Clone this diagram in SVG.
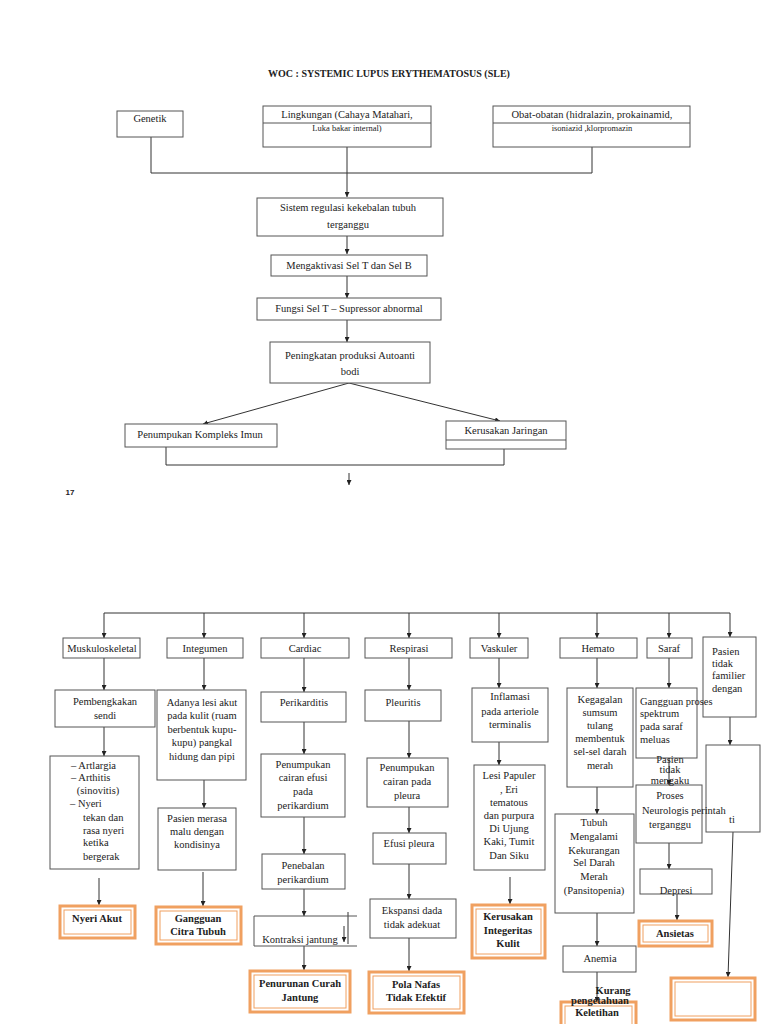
<svg xmlns="http://www.w3.org/2000/svg" width="768" height="1024" viewBox="0 0 768 1024">
<defs>
<marker id="ah" viewBox="0 0 10 10" refX="10" refY="5" markerWidth="5" markerHeight="5" orient="auto" markerUnits="userSpaceOnUse">
<path d="M0,0 L10,5 L0,10 z" fill="#222"/>
</marker>
<style>
text{font-family:"Liberation Serif","Times New Roman",serif;font-size:10.5px;fill:#222;text-anchor:middle}
.b{font-weight:bold}
.l{text-anchor:start}
.box{fill:#fff;stroke:#555;stroke-width:1}
.c line,.c path{stroke:#333;stroke-width:1;fill:none}
.a{marker-end:url(#ah)}
.o1{fill:#fff;stroke:#f0a060;stroke-width:3}
.o2{fill:none;stroke:#f0a060;stroke-width:1}
</style>
</defs>
<rect width="768" height="1024" fill="#fff"/>
<text class="b" x="389" y="77" style="font-size:10px">WOC : SYSTEMIC LUPUS ERYTHEMATOSUS (SLE)</text>
<text class="b" x="70" y="495" style="font-family:'Liberation Sans',sans-serif;font-size:8px">17</text>

<g class="c" id="connectors">
<line x1="151" y1="137" x2="151" y2="173"/>
<line x1="347" y1="147" x2="347" y2="173"/>
<line x1="592" y1="147" x2="592" y2="173"/>
<line x1="151" y1="173" x2="592" y2="173"/>
<line class="a" x1="347" y1="173" x2="347" y2="197"/>
<line class="a" x1="347" y1="235" x2="347" y2="254"/>
<line class="a" x1="347" y1="276" x2="347" y2="298"/>
<line class="a" x1="347" y1="320" x2="347" y2="342"/>
<line class="a" x1="349" y1="383" x2="203" y2="424"/>
<line class="a" x1="349" y1="383" x2="500" y2="421"/>
<line x1="166" y1="447" x2="166" y2="465"/>
<line x1="504" y1="449" x2="504" y2="465"/>
<line x1="166" y1="465" x2="504" y2="465"/>
<line class="a" x1="349" y1="473" x2="349" y2="485"/>

<line x1="104" y1="613" x2="730" y2="613"/>
<line class="a" x1="104" y1="613" x2="104" y2="638"/>
<line class="a" x1="204" y1="613" x2="204" y2="638"/>
<line class="a" x1="304" y1="613" x2="304" y2="638"/>
<line class="a" x1="409" y1="613" x2="409" y2="638"/>
<line class="a" x1="499" y1="613" x2="499" y2="638"/>
<line class="a" x1="597" y1="613" x2="597" y2="638"/>
<line class="a" x1="669" y1="613" x2="669" y2="638"/>
<line class="a" x1="730" y1="613" x2="730" y2="637"/>

<line class="a" x1="104" y1="658" x2="104" y2="690"/>
<line class="a" x1="204" y1="658" x2="204" y2="690"/>
<line class="a" x1="304" y1="658" x2="304" y2="692"/>
<line class="a" x1="409" y1="658" x2="409" y2="690"/>
<line class="a" x1="499" y1="658" x2="499" y2="688"/>
<line class="a" x1="597" y1="658" x2="597" y2="688"/>
<line class="a" x1="669" y1="658" x2="669" y2="688"/>

<line class="a" x1="104" y1="727" x2="104" y2="756"/>
<line class="a" x1="204" y1="780" x2="204" y2="808"/>
<line class="a" x1="304" y1="722" x2="304" y2="754"/>
<line class="a" x1="409" y1="721" x2="409" y2="758"/>
<line class="a" x1="499" y1="742" x2="499" y2="765"/>
<line class="a" x1="597" y1="787" x2="597" y2="814"/>
<line class="a" x1="669" y1="758" x2="669" y2="785"/>
<line class="a" x1="730" y1="717" x2="730" y2="745"/>

<line class="a" x1="99" y1="878" x2="99" y2="905"/>
<line class="a" x1="203" y1="872" x2="203" y2="906"/>
<line class="a" x1="304" y1="817" x2="304" y2="854"/>
<line class="a" x1="304" y1="889" x2="304" y2="916"/>
<line class="a" x1="304" y1="946" x2="304" y2="970"/>
<line class="a" x1="409" y1="807" x2="409" y2="833"/>
<line class="a" x1="409" y1="864" x2="409" y2="899"/>
<line class="a" x1="409" y1="938" x2="409" y2="971"/>
<line class="a" x1="510" y1="877" x2="510" y2="904"/>
<line class="a" x1="597" y1="913" x2="597" y2="946"/>
<line class="a" x1="597" y1="972" x2="597" y2="1002"/>
<line class="a" x1="669" y1="843" x2="669" y2="869"/>
<line class="a" x1="677" y1="894" x2="677" y2="920"/>
<line class="a" x1="733" y1="832" x2="728" y2="977"/>
<line x1="348" y1="912" x2="348" y2="944"/>
<line class="a" x1="344" y1="926" x2="344" y2="942"/>
</g>

<g id="genetik"><rect class="box" x="117" y="111" width="66" height="26"/><text x="150" y="122">Genetik</text></g>
<g id="lingkungan"><rect class="box" x="263" y="106" width="168" height="41"/><line x1="263" y1="123" x2="431" y2="123" stroke="#555"/><text x="347" y="118">Lingkungan (Cahaya Matahari,</text><text x="347" y="131" style="font-size:8.5px">Luka bakar internal)</text></g>
<g id="obat"><rect class="box" x="493" y="106" width="197" height="41"/><line x1="493" y1="123" x2="690" y2="123" stroke="#555"/><text x="592" y="118">Obat-obatan (hidralazin, prokainamid,</text><text x="592" y="131" style="font-size:8.5px">isoniazid ,klorpromazin</text></g>
<g id="sistem"><rect class="box" x="257" y="198" width="186" height="38"/><text x="348" y="211">Sistem regulasi kekebalan tubuh</text><text x="348" y="228">terganggu</text></g>
<g id="mengaktivasi"><rect class="box" x="271" y="255" width="156" height="21"/><text x="349" y="269">Mengaktivasi Sel T dan Sel B</text></g>
<g id="fungsi"><rect class="box" x="257" y="298" width="184" height="22"/><text x="349" y="312">Fungsi Sel T – Supressor abnormal</text></g>
<g id="peningkatan"><rect class="box" x="270" y="342" width="160" height="41"/><text x="350" y="359">Peningkatan produksi Autoanti</text><text x="350" y="375">bodi</text></g>
<g id="kompleks"><rect class="box" x="125" y="424" width="152" height="23"/><text x="200" y="438">Penumpukan Kompleks Imun</text></g>
<g id="kerusakan-jaringan"><rect class="box" x="446" y="421" width="120" height="28"/><line x1="446" y1="440" x2="566" y2="440" stroke="#555"/><text x="506" y="434">Kerusakan Jaringan</text></g>

<g id="musk"><rect class="box" x="63" y="638" width="77" height="20"/><text x="102" y="652">Muskuloskeletal</text></g>
<g id="integ"><rect class="box" x="167" y="638" width="76" height="20"/><text x="205" y="652">Integumen</text></g>
<g id="cardiac"><rect class="box" x="261" y="638" width="88" height="20"/><text x="305" y="652">Cardiac</text></g>
<g id="resp"><rect class="box" x="365" y="638" width="87" height="20"/><text x="409" y="652">Respirasi</text></g>
<g id="vask"><rect class="box" x="470" y="638" width="58" height="20"/><text x="499" y="652">Vaskuler</text></g>
<g id="hemato"><rect class="box" x="560" y="638" width="77" height="20"/><text x="598" y="652">Hemato</text></g>
<g id="saraf"><rect class="box" x="647" y="638" width="45" height="20"/><text x="669" y="652">Saraf</text></g>
<g id="pasien-familier"><rect class="box" x="703" y="637" width="53" height="80"/><text class="l" x="712" y="655">Pasien</text><text class="l" x="712" y="667">tidak</text><text class="l" x="712" y="679">familier</text><text class="l" x="712" y="692">dengan</text></g>

<g id="pembengkakan"><rect class="box" x="55" y="690" width="100" height="37"/><text x="105" y="705">Pembengkakan</text><text x="105" y="719">sendi</text></g>
<g id="lesi-akut"><rect class="box" x="157" y="690" width="89" height="90"/><text x="202" y="706">Adanya lesi akut</text><text x="202" y="719">pada kulit (ruam</text><text x="202" y="733">berbentuk kupu-</text><text x="202" y="746">kupu) pangkal</text><text x="202" y="760">hidung dan pipi</text></g>
<g id="perikarditis"><rect class="box" x="261" y="692" width="85" height="30"/><text x="304" y="706">Perikarditis</text></g>
<g id="pleuritis"><rect class="box" x="365" y="690" width="76" height="31"/><text x="403" y="706">Pleuritis</text></g>
<g id="inflamasi"><rect class="box" x="472" y="688" width="76" height="54"/><text x="510" y="700">Inflamasi</text><text x="510" y="715">pada arteriole</text><text x="510" y="728">terminalis</text></g>
<g id="kegagalan"><rect class="box" x="567" y="688" width="66" height="99"/><text x="600" y="703">Kegagalan</text><text x="600" y="716">sumsum</text><text x="600" y="729">tulang</text><text x="600" y="742">membentuk</text><text x="600" y="755">sel-sel darah</text><text x="600" y="769">merah</text></g>
<g id="gangguan-proses"><rect class="box" x="636" y="688" width="61" height="70"/><text class="l" x="640" y="705">Gangguan proses</text><text class="l" x="640" y="717">spektrum</text><text class="l" x="640" y="730">pada saraf</text><text class="l" x="640" y="743">meluas</text></g>

<g id="musk-list"><rect class="box" x="50" y="756" width="89" height="113"/>
<text class="l" x="71" y="769">–  Artlargia</text><text class="l" x="71" y="781">–  Arthitis</text><text x="98" y="794">(sinovitis)</text><text class="l" x="70" y="807">–   Nyeri</text><text class="l" x="83" y="821">tekan dan</text><text class="l" x="83" y="834">rasa nyeri</text><text class="l" x="83" y="846">ketika</text><text class="l" x="83" y="860">bergerak</text></g>
<g id="pasien-merasa"><rect class="box" x="158" y="808" width="78" height="62"/><text x="197" y="822">Pasien merasa</text><text x="197" y="835">malu dengan</text><text x="197" y="848">kondisinya</text></g>
<g id="cairan-efusi"><rect class="box" x="261" y="754" width="84" height="63"/><text x="303" y="768">Penumpukan</text><text x="303" y="781">cairan efusi</text><text x="303" y="795">pada</text><text x="303" y="809">perikardium</text></g>
<g id="cairan-pleura"><rect class="box" x="367" y="758" width="81" height="49"/><text x="407" y="771">Penumpukan</text><text x="407" y="785">cairan pada</text><text x="407" y="799">pleura</text></g>
<g id="lesi-papuler"><rect class="box" x="474" y="765" width="71" height="105"/><text x="509" y="779">Lesi Papuler</text><text x="509" y="793">, Eri</text><text x="509" y="806">tematous</text><text x="509" y="819">dan purpura</text><text x="509" y="832">Di Ujung</text><text x="509" y="845">Kaki, Tumit</text><text x="509" y="859">Dan Siku</text></g>
<g id="tubuh"><rect class="box" x="555" y="814" width="79" height="99"/><text x="594" y="826">Tubuh</text><text x="594" y="840">Mengalami</text><text x="594" y="854">Kekurangan</text><text x="594" y="866">Sel Darah</text><text x="594" y="880">Merah</text><text x="594" y="894">(Pansitopenia)</text></g>
<g id="ti"><rect class="box" x="706" y="745" width="54" height="87"/><text x="732" y="823">ti</text></g>
<g id="neurologis"><rect class="box" x="636" y="785" width="66" height="58"/><text x="670" y="763">Pasien</text><text x="670" y="773">tidak</text><text x="670" y="784">mengaku</text><text x="670" y="799">Proses</text><text class="l" x="642" y="814">Neurologis perintah</text><text x="670" y="828">terganggu</text></g>

<g id="penebalan"><rect class="box" x="262" y="854" width="83" height="35"/><text x="303" y="869">Penebalan</text><text x="303" y="883">perikardium</text></g>
<g id="efusi-pleura"><rect class="box" x="373" y="833" width="73" height="31"/><text x="409" y="847">Efusi pleura</text></g>
<g id="kontraksi"><path d="M357,916 H254 V946 H357" fill="none" stroke="#555"/><text x="300" y="943">Kontraksi jantung</text></g>
<g id="ekspansi"><rect class="box" x="370" y="899" width="86" height="39"/><text x="412" y="914">Ekspansi dada</text><text x="412" y="928">tidak adekuat</text></g>
<g id="depresi"><rect class="box" x="640" y="869" width="72" height="25"/><text x="676" y="894">Depresi</text></g>
<g id="anemia"><rect class="box" x="563" y="946" width="73" height="26"/><text x="600" y="962">Anemia</text></g>

<g id="nyeri-akut"><rect class="o1" x="60" y="906" width="75" height="32"/><rect class="o2" x="64" y="910" width="67" height="24"/><text class="b" x="97" y="922">Nyeri Akut</text></g>
<g id="citra-tubuh"><rect class="o1" x="156" y="907" width="85" height="37"/><rect class="o2" x="160" y="911" width="77" height="29"/><text class="b" x="198" y="922">Gangguan</text><text class="b" x="198" y="935">Citra Tubuh</text></g>
<g id="curah-jantung"><rect class="o1" x="250" y="971" width="100" height="41"/><rect class="o2" x="254" y="975" width="92" height="33"/><text class="b" x="300" y="987">Penurunan Curah</text><text class="b" x="300" y="1001">Jantung</text></g>
<g id="pola-nafas"><rect class="o1" x="369" y="972" width="95" height="41"/><rect class="o2" x="373" y="976" width="87" height="33"/><text class="b" x="416" y="988">Pola Nafas</text><text class="b" x="416" y="1001">Tidak Efektif</text></g>
<g id="integritas-kulit"><rect class="o1" x="472" y="905" width="73" height="53"/><rect class="o2" x="476" y="909" width="65" height="45"/><text class="b" x="508" y="920">Kerusakan</text><text class="b" x="508" y="934">Integeritas</text><text class="b" x="508" y="947">Kulit</text></g>
<g id="ansietas"><rect class="o1" x="639" y="921" width="73" height="25"/><rect class="o2" x="643" y="925" width="65" height="17"/><text class="b" x="675" y="937">Ansietas</text></g>
<g id="keletihan"><rect class="o1" x="561" y="1002" width="75" height="30"/><rect class="o2" x="565" y="1006" width="67" height="22"/><text class="b" x="597" y="1016">Keletihan</text></g>
<g id="kurang-pengetahuan"><text class="b" x="613" y="994">Kurang</text><text class="b" x="600" y="1004">pengetahuan</text></g>
<g id="orange-empty"><rect class="o1" x="671" y="978" width="84" height="42"/><rect class="o2" x="675" y="982" width="76" height="34"/></g>
</svg>
